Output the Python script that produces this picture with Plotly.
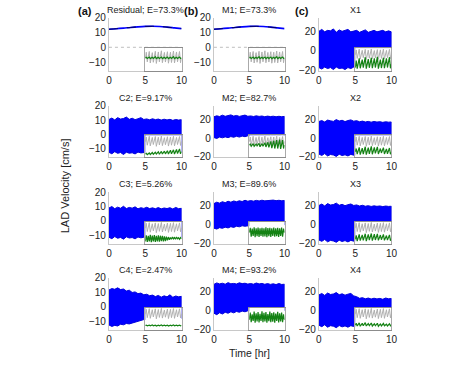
import plotly.graph_objects as go

W, H = 474, 369

# ---------------- data ----------------
TITLES = [["Residual; E=73.3%", "M1; E=73.3%", "X1"],
          ["C2; E=9.17%", "M2; E=82.7%", "X2"],
          ["C3; E=5.26%", "M3; E=89.6%", "X3"],
          ["C4; E=2.47%", "M4; E=93.2%", "X4"]]
PANEL_TAGS = ["(a)", "(b)", "(c)"]
X_TICKS = [0, 5, 10]
Y_TICKS_A = [-10, 0, 10, 20]
Y_TICKS_B = [-20, 0, 20]

TREND_X = [0, 1, 2, 3, 4, 5, 6, 7, 8, 9, 10]
RESIDUAL = [12.2, 12.5, 12.9, 13.4, 13.8, 14.1, 14.2, 14.0, 13.6, 13.1, 12.6]
M1 = [12.2, 12.5, 12.9, 13.4, 13.8, 14.1, 14.2, 14.0, 13.6, 13.1, 12.6]
ZERO_X = [0, 10]
ZERO_Y = [0, 0]

ENV_X = [0, 0.4, 0.8, 1.2, 1.6, 2.0, 2.4, 2.8, 3.2, 3.6, 4.0, 4.4, 4.8,
         5.2, 5.6, 6.0, 6.4, 6.8, 7.2, 7.6, 8.0, 8.4, 8.8, 9.2, 9.6, 10.0]

X1_UP = [20.0, 22.0, 19.5, 21.0, 20.5, 22.5, 19.0, 21.5, 20.0, 21.0, 22.0, 19.5, 20.5,
         21.0, 19.0, 20.5, 21.5, 19.0, 20.0, 21.0, 19.5, 20.5, 21.0, 19.5, 20.5, 19.5]
X1_LO = [-17.0, -18.5, -16.5, -18.0, -17.0, -19.0, -16.5, -18.0, -17.5, -19.0, -17.0, -18.0, -16.5,
         -17.5, -16.8, -17.8, -16.6, -17.4, -16.9, -17.6, -16.5, -17.2, -16.8, -17.5, -16.9, -17.2]

C2_UP = [10.5, 11.5, 10.2, 11.8, 10.8, 11.2, 12.2, 10.6, 11.4, 10.4, 11.0, 11.8, 10.5,
         10.9, 10.3, 11.0, 10.4, 10.8, 10.1, 10.7, 10.2, 10.6, 9.9, 10.5, 10.1, 10.4]
C2_LO = [-12.5, -13.5, -12.0, -13.2, -12.6, -14.0, -12.4, -13.1, -12.8, -13.6, -12.3, -12.9, -12.6,
         -12.4, -12.8, -12.2, -12.7, -12.3, -12.6, -12.1, -12.5, -12.2, -12.6, -12.0, -12.4, -12.2]

M2_UP = [22.5, 23.5, 22.8, 24.2, 23.0, 23.8, 24.5, 23.2, 23.9, 22.9, 23.6, 24.3, 23.0,
         23.4, 22.8, 23.5, 22.9, 23.3, 22.6, 23.2, 22.7, 23.1, 22.5, 23.0, 22.6, 22.9]
M2_LO = [0.5, -0.5, 1.0, 0.2, 1.2, 0.4, 1.5, 0.8, 1.8, 1.0, 2.0, 1.4, 2.3,
         1.8, 2.5, 2.0, 2.6, 2.2, 2.8, 2.3, 2.9, 2.5, 3.0, 2.6, 3.1, 2.8]

X2_UP = [17.5, 18.5, 17.0, 19.0, 18.2, 17.6, 19.5, 18.0, 18.8, 17.4, 18.5, 19.2, 17.8,
         18.4, 17.2, 17.9, 17.0, 17.6, 16.8, 17.5, 16.9, 17.3, 16.6, 17.2, 16.8, 17.0]
X2_LO = [-17.0, -18.5, -16.5, -19.0, -17.5, -18.0, -19.5, -17.2, -18.6, -17.8, -19.0, -17.4, -18.2,
         -17.6, -18.0, -17.3, -17.9, -17.2, -17.8, -17.1, -17.7, -17.3, -17.8, -17.2, -17.6, -17.4]

C3_UP = [9.0, 10.0, 8.5, 9.6, 8.8, 10.2, 8.6, 9.4, 8.9, 9.8, 8.4, 9.2, 8.7,
         9.5, 8.6, 9.1, 8.5, 9.3, 8.4, 9.0, 8.6, 9.2, 8.3, 9.4, 8.5, 8.8]
C3_LO = [-11.5, -12.5, -11.0, -12.2, -11.6, -12.8, -11.2, -12.0, -11.7, -12.6, -11.3, -11.9, -11.5,
         -11.8, -11.4, -11.9, -11.3, -11.8, -11.5, -11.9, -11.4, -11.7, -11.3, -11.8, -11.5, -11.6]

M3_UP = [22.0, 23.5, 22.5, 24.0, 23.0, 24.5, 23.5, 24.8, 24.0, 25.0, 24.2, 25.5, 24.5,
         25.2, 24.6, 25.4, 24.8, 25.6, 24.9, 25.3, 25.0, 25.7, 25.1, 25.5, 25.0, 25.3]
M3_LO = [-4.0, -5.0, -3.5, -4.2, -3.0, -3.8, -2.5, -3.2, -2.0, -2.6, -1.5, -2.0, -1.0,
         -1.2, -0.8, -1.0, -0.6, -0.9, -0.5, -0.8, -0.4, -0.7, -0.3, -0.6, -0.2, -0.5]

X3_UP = [20.0, 21.5, 19.5, 22.0, 20.5, 21.0, 22.5, 20.2, 21.2, 19.8, 20.8, 21.6, 20.0,
         20.6, 19.4, 20.2, 19.2, 19.8, 19.0, 19.6, 19.1, 19.5, 18.8, 19.4, 19.0, 19.2]
X3_LO = [-16.5, -18.0, -16.0, -18.5, -17.0, -17.6, -19.0, -16.8, -18.2, -17.2, -18.6, -17.0, -17.8,
         -17.2, -17.6, -17.0, -17.5, -16.9, -17.4, -17.0, -17.5, -16.9, -17.3, -17.0, -17.4, -17.1]

C4_UP = [11.5, 12.5, 12.0, 13.0, 11.8, 12.2, 10.8, 11.4, 9.8, 10.2, 9.0, 9.4, 8.2,
         8.6, 7.6, 8.0, 7.0, 7.8, 6.6, 7.5, 6.8, 8.2, 6.5, 7.4, 6.8, 7.2]
C4_LO = [-12.5, -13.5, -12.8, -13.2, -12.0, -12.4, -11.5, -11.8, -10.8, -10.5, -9.8, -9.4, -8.8,
         -8.5, -8.2, -8.4, -8.0, -8.3, -7.9, -8.2, -7.8, -8.1, -7.9, -8.2, -7.8, -8.0]

M4_UP = [27.0, 28.5, 27.5, 28.2, 27.2, 28.8, 27.6, 28.0, 27.4, 28.6, 27.8, 28.2, 27.3,
         27.9, 27.2, 28.4, 27.5, 28.0, 27.1, 27.8, 27.0, 27.6, 26.8, 27.9, 26.9, 27.2]
M4_LO = [-3.0, -4.5, -2.5, -3.8, -2.0, -3.0, -1.5, -2.6, -1.2, -2.0, -0.8, -1.5, -0.5,
         -0.8, -0.3, -0.6, -0.2, -0.5, -0.1, -0.4, 0.0, -0.3, 0.1, -0.2, 0.0, -0.1]

X4_UP = [16.0, 17.5, 15.5, 18.0, 16.5, 17.0, 18.5, 16.2, 17.2, 15.8, 16.8, 17.6, 15.0,
         14.2, 12.5, 13.2, 12.0, 12.8, 11.8, 12.6, 11.9, 12.4, 11.5, 12.8, 12.0, 12.3]
X4_LO = [-15.5, -17.0, -15.0, -17.5, -16.0, -16.5, -18.0, -15.8, -17.2, -16.2, -17.5, -16.0, -16.8,
         -16.2, -16.6, -16.0, -16.5, -15.9, -16.4, -16.0, -16.5, -15.9, -16.3, -16.0, -16.4, -16.1]

# inset (zoomed detail, normalised inset units)
GRAY_MID = [0.55, 0.82, 0.40, 0.62, 0.85, 0.35, 0.58, 0.80, 0.38, 0.64, 0.86, 0.33, 0.57,
            0.83, 0.40, 0.60, 0.88, 0.36, 0.55, 0.81, 0.39, 0.63, 0.84, 0.34, 0.58, 0.82,
            0.37, 0.61, 0.87, 0.35, 0.56, 0.83, 0.40, 0.62, 0.85, 0.36, 0.55]
GRAY_UP = [0.70, 0.92, 0.55, 0.78, 0.95, 0.52, 0.72, 0.90, 0.58, 0.80, 0.94, 0.50, 0.70,
           0.91, 0.56, 0.76, 0.96, 0.53, 0.71, 0.89, 0.57, 0.79, 0.93, 0.51, 0.73, 0.92,
           0.55, 0.77, 0.95, 0.52, 0.70, 0.90, 0.58, 0.80, 0.94, 0.54, 0.72]

GREEN_RES = [0.57, 0.60, 0.55, 0.58, 0.61, 0.54, 0.58, 0.60, 0.55, 0.59, 0.62, 0.54, 0.57,
             0.60, 0.55, 0.58, 0.61, 0.54, 0.57, 0.60, 0.55, 0.59, 0.61, 0.54, 0.58, 0.60,
             0.55, 0.58, 0.62, 0.54, 0.57, 0.60, 0.55, 0.58, 0.61, 0.55, 0.57]
GREEN_X1 = [0.15, 0.45, 0.10, 0.35, 0.55, 0.12, 0.30, 0.50, 0.15, 0.40, 0.60, 0.10, 0.32,
            0.52, 0.14, 0.38, 0.58, 0.12, 0.30, 0.55, 0.15, 0.42, 0.62, 0.10, 0.35, 0.50,
            0.13, 0.40, 0.58, 0.12, 0.33, 0.55, 0.15, 0.38, 0.60, 0.12, 0.30]
GREEN_C2 = [0.15, 0.18, 0.12, 0.17, 0.20, 0.13, 0.18, 0.22, 0.14, 0.19, 0.23, 0.15, 0.20,
            0.25, 0.14, 0.21, 0.27, 0.15, 0.22, 0.28, 0.16, 0.24, 0.30, 0.15, 0.25, 0.32,
            0.16, 0.27, 0.34, 0.15, 0.28, 0.36, 0.17, 0.30, 0.38, 0.16, 0.25]
GREEN_M2 = [0.55, 0.60, 0.50, 0.57, 0.62, 0.50, 0.56, 0.60, 0.52, 0.58, 0.63, 0.48, 0.55,
            0.62, 0.50, 0.58, 0.66, 0.47, 0.55, 0.68, 0.45, 0.60, 0.72, 0.42, 0.55, 0.75,
            0.40, 0.62, 0.78, 0.40, 0.58, 0.80, 0.38, 0.62, 0.78, 0.40, 0.55]
GREEN_X2 = [0.25, 0.40, 0.15, 0.30, 0.45, 0.12, 0.28, 0.42, 0.15, 0.35, 0.48, 0.12, 0.30,
            0.44, 0.16, 0.33, 0.50, 0.14, 0.28, 0.45, 0.18, 0.36, 0.47, 0.15, 0.30, 0.40,
            0.20, 0.33, 0.44, 0.15, 0.28, 0.38, 0.16, 0.30, 0.42, 0.14, 0.22]
GREEN_C3 = [0.10, 0.38, 0.08, 0.36, 0.10, 0.40, 0.07, 0.37, 0.10, 0.39, 0.08, 0.35, 0.10,
            0.38, 0.09, 0.36, 0.12, 0.35, 0.10, 0.33, 0.12, 0.32, 0.15, 0.30, 0.18, 0.28,
            0.20, 0.30, 0.22, 0.28, 0.20, 0.30, 0.22, 0.27, 0.20, 0.28, 0.22]
GREEN_M3 = [0.50, 0.72, 0.32, 0.68, 0.35, 0.74, 0.30, 0.70, 0.34, 0.73, 0.31, 0.69, 0.35,
            0.72, 0.32, 0.70, 0.33, 0.74, 0.30, 0.71, 0.34, 0.72, 0.31, 0.70, 0.35, 0.73,
            0.32, 0.69, 0.34, 0.72, 0.31, 0.70, 0.35, 0.73, 0.32, 0.68, 0.50]
GREEN_X3 = [0.20, 0.38, 0.12, 0.30, 0.42, 0.14, 0.26, 0.40, 0.15, 0.34, 0.45, 0.12, 0.28,
            0.42, 0.16, 0.32, 0.46, 0.14, 0.27, 0.43, 0.17, 0.34, 0.44, 0.15, 0.29, 0.39,
            0.18, 0.31, 0.42, 0.15, 0.27, 0.37, 0.16, 0.30, 0.40, 0.14, 0.22]
GREEN_C4 = [0.20, 0.22, 0.19, 0.21, 0.22, 0.19, 0.21, 0.23, 0.19, 0.21, 0.22, 0.18, 0.20,
            0.22, 0.19, 0.21, 0.23, 0.19, 0.20, 0.22, 0.19, 0.21, 0.22, 0.18, 0.20, 0.22,
            0.19, 0.21, 0.23, 0.19, 0.20, 0.22, 0.19, 0.21, 0.22, 0.19, 0.20]
GREEN_M4 = [0.45, 0.78, 0.35, 0.70, 0.40, 0.82, 0.33, 0.74, 0.38, 0.80, 0.34, 0.72, 0.40,
            0.83, 0.35, 0.76, 0.38, 0.80, 0.33, 0.71, 0.39, 0.82, 0.35, 0.75, 0.37, 0.79,
            0.33, 0.73, 0.40, 0.81, 0.34, 0.74, 0.38, 0.78, 0.35, 0.70, 0.45]
GREEN_X4 = [0.22, 0.30, 0.18, 0.26, 0.32, 0.17, 0.24, 0.30, 0.19, 0.27, 0.33, 0.18, 0.23,
            0.29, 0.20, 0.26, 0.31, 0.18, 0.22, 0.28, 0.19, 0.25, 0.30, 0.17, 0.22, 0.27,
            0.18, 0.24, 0.29, 0.19, 0.21, 0.26, 0.18, 0.23, 0.28, 0.19, 0.22]

PANELS = [
    [("trend", RESIDUAL), ("trend", M1), ("band", X1_UP, X1_LO)],
    [("band", C2_UP, C2_LO), ("band", M2_UP, M2_LO), ("band", X2_UP, X2_LO)],
    [("band", C3_UP, C3_LO), ("band", M3_UP, M3_LO), ("band", X3_UP, X3_LO)],
    [("band", C4_UP, C4_LO), ("band", M4_UP, M4_LO), ("band", X4_UP, X4_LO)],
]
INSETS = [
    [(GRAY_MID, GREEN_RES), (GRAY_MID, GREEN_RES), (GRAY_UP, GREEN_X1)],
    [(GRAY_UP, GREEN_C2), (GRAY_UP, GREEN_M2), (GRAY_UP, GREEN_X2)],
    [(GRAY_UP, GREEN_C3), (None, GREEN_M3), (GRAY_UP, GREEN_X3)],
    [(GRAY_UP, GREEN_C4), (None, GREEN_M4), (GRAY_UP, GREEN_X4)],
]

# ---------------- layout geometry (window pixels) ----------------
COL_PX = [(108, 182), (215, 287), (322, 396)]
ROW_PX = [(12, 67), (103, 156), (192, 245), (280, 334)]
INSET_FRAC = 0.43
FONT = "Liberation Sans, Arial, sans-serif"
BLUE = "rgb(0,0,255)"
GREEN = "rgb(20,130,20)"
GRAY = "rgb(175,175,175)"


def pxx(x):
    return x / W


def pxy(y):
    return 1 - y / H


def yrange(r, c):
    if c == 0 or (r == 0 and c == 1):
        return [-16, 20]
    return [-20.5, 34]


fig = go.Figure()
layout = {}
annotations = []

for r in range(4):
    for c in range(3):
        i = r * 3 + c + 1
        j = i + 12
        xa, ya = ("x" if i == 1 else f"x{i}"), ("y" if i == 1 else f"y{i}")
        xi, yi = f"x{j}", f"y{j}"
        x0, x1 = COL_PX[c]
        y0, y1 = ROW_PX[r]
        panel = PANELS[r][c]
        if panel[0] == "trend":
            fig.add_trace(go.Scatter(x=ZERO_X, y=ZERO_Y, mode="lines", xaxis=xa, yaxis=ya,
                                     line=dict(color="rgb(190,190,190)", width=1, dash="dot"),
                                     showlegend=False, hoverinfo="skip"))
            fig.add_trace(go.Scatter(x=TREND_X, y=panel[1], mode="lines", xaxis=xa, yaxis=ya,
                                     line=dict(color=BLUE, width=1.6, shape="spline"),
                                     showlegend=False, hoverinfo="skip"))
            fig.add_trace(go.Scatter(x=TREND_X, y=panel[1], mode="lines", xaxis=xa, yaxis=ya,
                                     line=dict(color="rgb(0,0,90)", width=1, dash="dash", shape="spline"),
                                     showlegend=False, hoverinfo="skip"))
        else:
            up, lo = panel[1], panel[2]
            fig.add_trace(go.Scatter(x=ENV_X + ENV_X[::-1], y=up + lo[::-1], mode="lines",
                                     fill="toself", fillcolor=BLUE, xaxis=xa, yaxis=ya,
                                     line=dict(color="rgb(0,0,220)", width=1),
                                     showlegend=False, hoverinfo="skip"))
        yr = yrange(r, c)
        ticks_y = Y_TICKS_A if yr[0] == -16 else Y_TICKS_B
        key = "" if i == 1 else str(i)
        layout["xaxis" + key] = dict(domain=[pxx(x0), pxx(x1)], anchor=ya, range=[0, 10],
                                     tickvals=X_TICKS, showgrid=False, zeroline=False,
                                     showline=True, linecolor="rgb(200,200,200)", linewidth=1,
                                     ticks="", tickfont=dict(size=10, color="#222", family=FONT))
        layout["yaxis" + key] = dict(domain=[pxy(y1), pxy(y0)], anchor=xa, range=yr,
                                     tickvals=ticks_y, showgrid=False, zeroline=False,
                                     showline=True, linecolor="rgb(200,200,200)", linewidth=1,
                                     ticks="", tickfont=dict(size=10, color="#222", family=FONT))
        gray, green = INSETS[r][c]
        n = len(green)
        if gray is not None:
            fig.add_trace(go.Scatter(x=list(range(len(gray))), y=gray, mode="lines",
                                     xaxis=xi, yaxis=yi, line=dict(color=GRAY, width=1),
                                     showlegend=False, hoverinfo="skip"))
        fig.add_trace(go.Scatter(x=list(range(n)), y=green, mode="lines",
                                 xaxis=xi, yaxis=yi, line=dict(color=GREEN, width=1.2),
                                 showlegend=False, hoverinfo="skip"))
        xm = (x0 + x1) / 2
        it = y1 - INSET_FRAC * (y1 - y0)
        layout[f"xaxis{j}"] = dict(domain=[pxx(xm), pxx(x1)], anchor=yi, range=[0, n - 1],
                                   showticklabels=False, ticks="", showgrid=False, zeroline=False,
                                   showline=True, mirror=True, linecolor="rgb(140,140,140)",
                                   linewidth=1)
        layout[f"yaxis{j}"] = dict(domain=[pxy(y1), pxy(it)], anchor=xi, range=[0, 1],
                                   showticklabels=False, ticks="", showgrid=False, zeroline=False,
                                   showline=True, mirror=True, linecolor="rgb(170,170,170)",
                                   linewidth=1)
        annotations.append(dict(text=TITLES[r][c], x=pxx((x0 + x1) / 2), y=pxy(y0 - 1),
                                xref="paper", yref="paper", xanchor="center", yanchor="bottom",
                                showarrow=False, font=dict(size=9, color="#222", family=FONT)))

for c, tag in enumerate(PANEL_TAGS):
    annotations.append(dict(text=f"<b>{tag}</b>", x=pxx([84, 192, 305][c]), y=pxy(5),
                            xref="paper", yref="paper", xanchor="center", yanchor="middle",
                            showarrow=False, font=dict(size=11, color="#111", family=FONT)))

annotations.append(dict(text="LAD Velocity [cm/s]", x=pxx(64), y=pxy(185), textangle=-90,
                        xref="paper", yref="paper", xanchor="center", yanchor="middle",
                        showarrow=False, font=dict(size=11, color="#222", family=FONT)))
annotations.append(dict(text="Time [hr]", x=pxx(251), y=pxy(358),
                        xref="paper", yref="paper", xanchor="center", yanchor="middle",
                        showarrow=False, font=dict(size=10.5, color="#222", family=FONT)))

fig.update_layout(width=W, height=H, margin=dict(l=0, r=0, t=0, b=0),
                  paper_bgcolor="white", plot_bgcolor="white",
                  annotations=annotations, showlegend=False, **layout)

fig.write_html("out.html", config={"displayModeBar": False},
               post_script="document.body.style.margin='0';")
